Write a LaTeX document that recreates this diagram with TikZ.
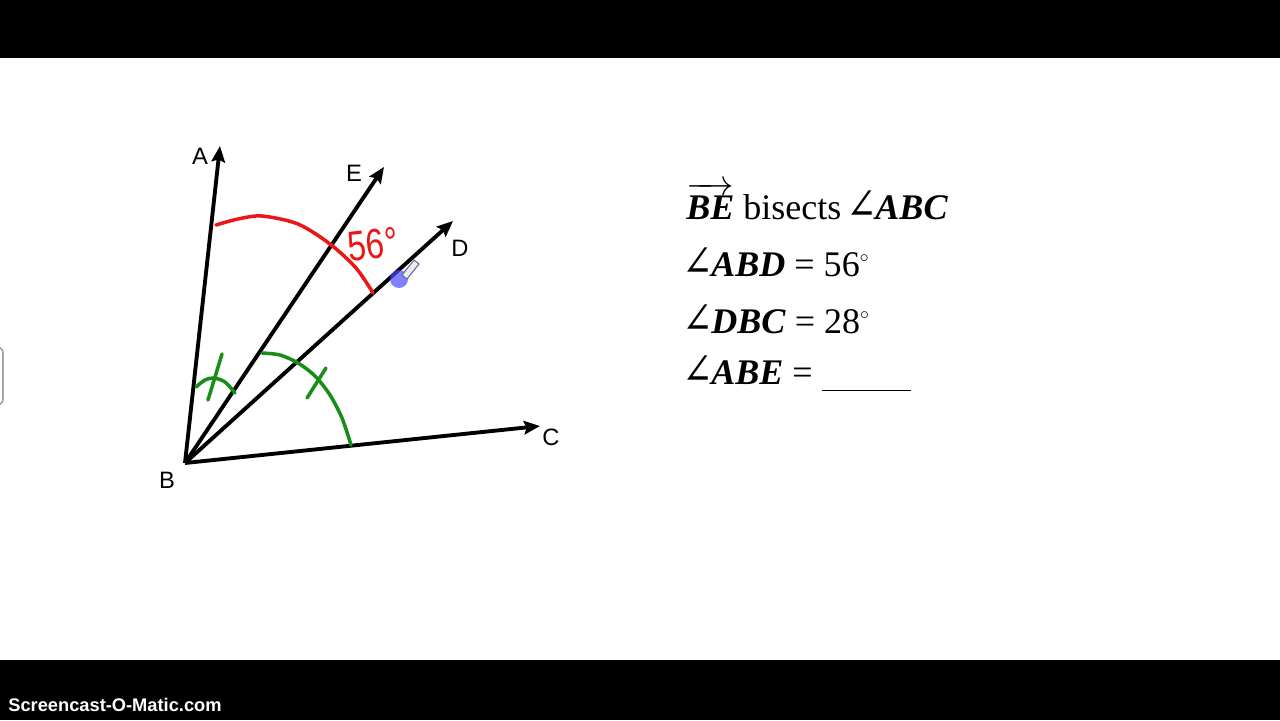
\documentclass[tikz,border=0pt]{standalone}
\usepackage{fontspec}
\usepackage{graphicx}
\setmainfont{Liberation Serif}
\newfontfamily\labelfont{Liberation Sans}
\newfontfamily\anglefont{DejaVu Serif}
\usetikzlibrary{arrows.meta}
\definecolor{markred}{RGB}{236,22,22}
\definecolor{markgreen}{RGB}{24,142,24}
\tikzset{
  ray/.style={line width=2.2pt,-{Stealth[length=3.2mm,width=2.7mm,inset=0.5mm]}},
  raylabel/.style={font=\labelfont\fontsize{13.5}{16}\selectfont},
  redmark/.style={draw=markred,line width=2pt,line cap=round},
  greenmark/.style={draw=markgreen,line width=2pt,line cap=round},
  eqline/.style={anchor=base west,inner sep=0pt,font=\fontsize{20.5}{24}\selectfont}
}
\newcommand{\bi}[1]{\textbf{\textit{#1}}}
\newcommand{\ang}{\kern-0.1em\scalebox{1.1}[1.3]{\anglefont\fontsize{19}{24}\selectfont ∠}\kern-0.06em}
\newcommand{\dg}{$^{\scriptscriptstyle\circ}$}
\begin{document}
\begin{tikzpicture}[x=0.02cm,y=-0.02cm]
      \useasboundingbox (0,0) rectangle (1280,720);
      \clip (0,0) rectangle (1280,720);
      \fill[white] (0,0) rectangle (1280,720);
      \fill[black] (0,0) rectangle (1280,58);
      \fill[black] (0,660) rectangle (1280,720);
      \draw[gray!70,line width=1pt,rounded corners=0.12cm] (-20,347) rectangle (3,405);
      \node[anchor=base west,inner sep=0pt,text=white,font=\labelfont\bfseries\fontsize{10.4}{12}\selectfont]
        (brand) at (8,711) {Screencast-O-Matic.com};
      % the rays
      \coordinate (B) at (185,463);
      \coordinate (A) at (220,146);
      \coordinate (E) at (384,167);
      \coordinate (D) at (453,221);
      \coordinate (C) at (540,426);
      \draw[raylabel]
        (200,156) node (lA){A}
        (354,173) node (lE){E}
        (460,248) node (lD){D}
        (551,437) node (lC){C}
        (167,480) node (lB){B};
      \begin{scope}[ray]
        \draw (B) to (A);
        \draw (B) to (E);
        \draw (B) to (D);
        \draw (B) to (C);
      \end{scope}
      % marks
      \draw[redmark] plot[smooth] coordinates
        {(216,225) (238,219) (262,216) (298,224) (330,244) (356,268) (373,293)};
      \node[text=markred,rotate=6,xscale=0.78,font=\labelfont\fontsize{24}{28}\selectfont] (ang) at (373,244) {56°};
      \draw[greenmark] plot[smooth] coordinates
        {(196,387) (205,380) (214,378) (225,382) (235,393)};
      \draw[greenmark] (222,354) to (208,400);
      \draw[greenmark] plot[smooth] coordinates
        {(262,353) (280,355) (298,363) (315,376) (330,395) (342,418) (351,445)};
      \draw[greenmark] (326,368) to (307,398);
      % pen cursor
      \fill[blue!70,opacity=0.7] (399,279) circle[radius=0.18cm];
      \draw[gray!80!blue,fill=gray!15,line width=0.6pt]
        (402,275) -- (414,260) -- (419,264) -- (407,279) -- cycle;
      % the problem
      \node[eqline] (given) at (686,219)
        {$\overrightarrow{\rule{0pt}{0.7em}\mbox{\bi{BE}}}$ bisects \ang\bi{ABC}};
      \node[eqline] (abd) at (686,276) {\ang\bi{ABD} = 56\dg};
      \node[eqline] (dbc) at (686,333) {\ang\bi{DBC} = 28\dg};
      \node[eqline] (abe) at (686,384) {\ang\bi{ABE} = \rule[-0.14cm]{1.78cm}{0.6pt}};
    \end{tikzpicture}
\end{document}
